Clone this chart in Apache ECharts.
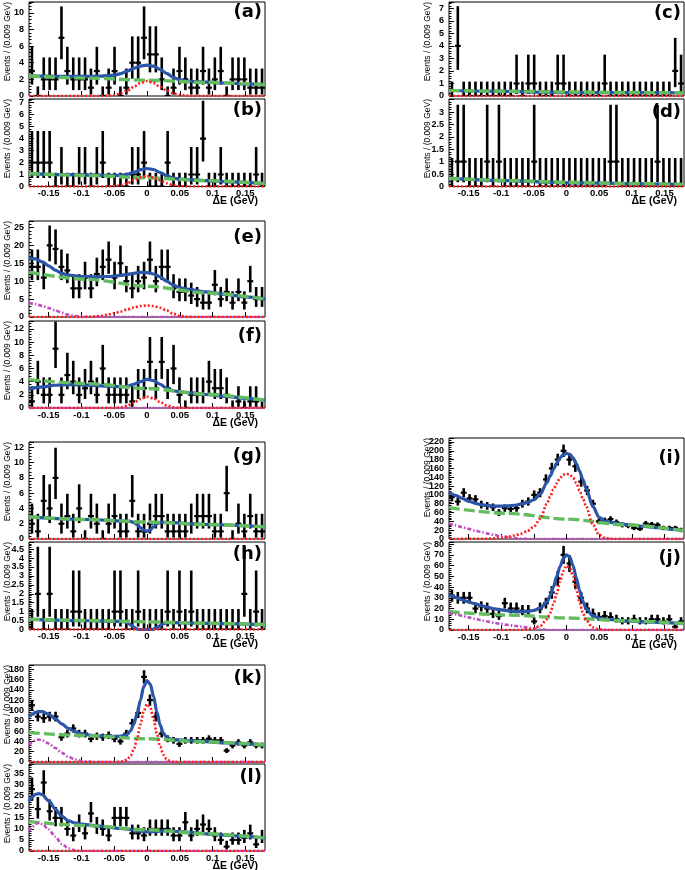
<!DOCTYPE html>
<html>
<head>
<meta charset="utf-8">
<script src="https://cdn.jsdelivr.net/npm/echarts@6/dist/echarts.min.js"></script>
<style>
  html, body { margin: 0; padding: 0; background: #fff; }
  #chart { width: 685px; height: 870px; }
</style>
</head>
<body>
<div id="chart"></div>
<script>
// ---- binning: 40 bins of 0.009 GeV between -0.18 and 0.18 ----
var X_MIN = -0.18, X_MAX = 0.18;
var BIN_WIDTH = 0.009;
var BIN_CENTERS = [-0.1755, -0.1665, -0.1575, -0.1485, -0.1395, -0.1305, -0.1215, -0.1125, -0.1035, -0.0945,
                   -0.0855, -0.0765, -0.0675, -0.0585, -0.0495, -0.0405, -0.0315, -0.0225, -0.0135, -0.0045,
                    0.0045,  0.0135,  0.0225,  0.0315,  0.0405,  0.0495,  0.0585,  0.0675,  0.0765,  0.0855,
                    0.0945,  0.1035,  0.1125,  0.1215,  0.1305,  0.1395,  0.1485,  0.1575,  0.1665,  0.1755];
var X_TICKS = [-0.15, -0.1, -0.05, 0, 0.05, 0.1, 0.15];

// Poisson 68% intervals used for the error bars of small counts (n = 0..20)
var POIS_LO = [0, 0.173, 0.708, 1.367, 2.086, 2.840, 3.620, 4.419, 5.232, 6.057, 6.891,
               7.734, 8.585, 9.441, 10.30, 11.17, 12.04, 12.92, 13.80, 14.68, 15.57];
var POIS_HI = [1.148, 3.300, 4.638, 5.918, 7.163, 8.382, 9.584, 10.77, 11.95, 13.11, 14.27,
               15.42, 16.56, 17.70, 18.83, 19.96, 21.08, 22.20, 23.32, 24.44, 25.55];

// ---- events per bin ----
var A_COUNTS = [3,0,2,2,2,7,3,2,2,2, 1,3,0,1,3,0,1,4,4,7, 5,5,2,0,1,3,2,1,1,3, 1,2,3,0,2,2,2,1,1,1];
var B_COUNTS = [2,2,2,2,0,1,0,0,1,1, 0,1,2,0,0,0,0,1,1,2, 0,0,0,2,0,0,0,1,1,4, 0,0,1,0,0,0,0,0,1,0];
var C_COUNTS = [0,4,0,0,0,0,0,0,0,0, 0,1,0,1,1,0,0,0,1,1, 0,0,0,0,0,0,1,0,0,0, 0,0,0,0,0,0,0,0,2,1];
var D_COUNTS = [0,1,1,0,0,0,1,0,1,0, 0,0,0,0,1,0,0,0,0,0, 0,0,0,0,0,0,0,1,1,0, 0,0,0,0,0,1,0,0,0,0];
var E_COUNTS = [14,14,11,20,19,14,13,8,8,11, 8,12,14,16,11,15,10,8,10,11, 16,10,14,14,8,7,7,6,5,4, 4,9,5,7,4,7,4,10,5,5];
var F_COUNTS = [1,4,2,2,9,2,5,4,2,3, 4,2,6,2,2,2,2,1,3,3, 7,3,7,3,6,2,0,2,2,2, 4,3,3,2,0,1,0,1,1,0];
var G_COUNTS = [2,1,5,4,8,2,3,1,4,0, 3,2,0,2,3,1,1,5,1,1, 2,3,3,1,1,1,1,2,3,3, 3,1,1,6,0,2,1,3,1,1];
var H_COUNTS = [0,2,0,2,0,0,0,1,1,0, 0,0,0,0,1,1,0,0,1,0, 0,0,0,1,0,1,0,1,0,0, 0,0,0,0,0,0,2,0,1,0];
var I_COUNTS = [95,85,105,92,90,78,75,72,60,70, 68,70,80,85,100,105,135,160,180,200,
                180,165,130,110,80,40,42,45,38,32, 30,25,23,35,33,32,25,25,25,20];
var J_COUNTS = [32,30,30,30,20,22,20,15,13,25, 20,20,18,18,8,20,25,35,48,70,
                62,45,30,20,15,12,13,12,10,8, 8,10,8,8,10,10,8,10,3,8];
var K_COUNTS = [110,88,85,88,88,48,55,65,55,55, 45,50,48,52,45,40,55,75,95,165,
                120,88,55,45,42,35,42,42,42,42, 45,42,42,22,32,38,32,38,32,32];
var L_COUNTS = [28,19,31,18,15,15,10,7,12,8, 17,11,10,7,15,15,15,8,8,7,
                10,10,10,10,7,7,13,7,10,12, 10,7,5,2,5,5,6,8,3,6];

// ---- y tick labels ----
var A_YTICKS = [0, 2, 4, 6, 8, 10];
var B_YTICKS = [0, 1, 2, 3, 4, 5, 6, 7];
var C_YTICKS = [0, 1, 2, 3, 4, 5, 6, 7];
var D_YTICKS = [0, 0.5, 1, 1.5, 2, 2.5, 3];
var E_YTICKS = [0, 5, 10, 15, 20, 25];
var F_YTICKS = [0, 2, 4, 6, 8, 10, 12];
var G_YTICKS = [0, 2, 4, 6, 8, 10, 12];
var H_YTICKS = [0, 0.5, 1, 1.5, 2, 2.5, 3, 3.5, 4, 4.5];
var I_YTICKS = [0, 20, 40, 60, 80, 100, 120, 140, 160, 180, 200, 220];
var J_YTICKS = [0, 10, 20, 30, 40, 50, 60, 70, 80];
var K_YTICKS = [0, 20, 40, 60, 80, 100, 120, 140, 160, 180];
var L_YTICKS = [0, 5, 10, 15, 20, 25, 30, 35];

// ---- fit curves as [dE, events] ----
var ZERO_LINE = [[-0.18, 0], [0.18, 0]];

var A_TOTAL = [[-0.18,2.4],[-0.14,2.37],[-0.1,2.35],[-0.07,2.38],[-0.05,2.5],[-0.04,2.7],[-0.03,3.0],[-0.02,3.35],[-0.01,3.6],[0,3.7],
               [0.01,3.58],[0.02,3.2],[0.03,2.72],[0.04,2.25],[0.05,1.95],[0.06,1.8],[0.09,1.66],[0.12,1.56],[0.15,1.46],[0.18,1.36]];
var A_BKG   = [[-0.18,2.4],[-0.09,2.15],[0,1.9],[0.09,1.63],[0.18,1.36]];
var A_SIG   = [[-0.18,0],[-0.07,0],[-0.06,0.04],[-0.05,0.12],[-0.04,0.32],[-0.03,0.65],[-0.02,1.1],[-0.01,1.55],[0,1.8],
               [0.01,1.55],[0.02,1.1],[0.03,0.65],[0.04,0.32],[0.05,0.12],[0.06,0.04],[0.07,0],[0.18,0]];

var B_TOTAL = [[-0.18,1.08],[-0.12,0.99],[-0.08,0.95],[-0.05,0.92],[-0.04,0.94],[-0.03,1.02],[-0.02,1.18],[-0.01,1.4],[0,1.5],
               [0.01,1.42],[0.02,1.17],[0.03,0.9],[0.04,0.7],[0.05,0.62],[0.09,0.49],[0.13,0.38],[0.18,0.24]];
var B_BKG   = [[-0.18,1.08],[-0.09,0.92],[0,0.72],[0.09,0.49],[0.18,0.24]];
var B_SIG   = [[-0.18,0],[-0.06,0],[-0.05,0.03],[-0.04,0.1],[-0.03,0.27],[-0.02,0.52],[-0.01,0.76],[0,0.88],
               [0.01,0.76],[0.02,0.52],[0.03,0.27],[0.04,0.1],[0.05,0.03],[0.06,0],[0.18,0]];

var C_TOTAL = [[-0.18,0.44],[-0.09,0.37],[-0.03,0.3],[0,0.27],[0.03,0.27],[0.09,0.27],[0.18,0.25]];
var C_BKG   = [[-0.18,0.45],[-0.09,0.38],[0,0.32],[0.09,0.28],[0.18,0.25]];

var D_TOTAL = [[-0.18,0.33],[-0.09,0.24],[-0.03,0.18],[0,0.15],[0.03,0.15],[0.09,0.12],[0.18,0.08]];
var D_BKG   = [[-0.18,0.33],[-0.09,0.24],[0,0.17],[0.09,0.12],[0.18,0.08]];

var E_TOTAL = [[-0.18,16.5],[-0.17,16.2],[-0.16,15.4],[-0.15,14.3],[-0.14,13.1],[-0.13,12.2],[-0.12,11.7],[-0.1,11.3],[-0.08,11.2],[-0.06,11.3],
               [-0.04,11.6],[-0.03,11.9],[-0.02,12.2],[-0.01,12.45],[0,12.4],[0.01,12.0],[0.02,11.2],[0.03,10.0],[0.04,8.9],[0.05,8.2],
               [0.06,7.8],[0.09,7.0],[0.12,6.3],[0.15,5.6],[0.18,5.0]];
var E_BKG   = [[-0.18,12.5],[-0.09,10.5],[0,8.6],[0.09,6.75],[0.18,5.0]];
var E_SIG   = [[-0.18,0],[-0.09,0],[-0.08,0.15],[-0.07,0.35],[-0.06,0.65],[-0.05,1.05],[-0.04,1.55],[-0.03,2.1],[-0.02,2.65],[-0.01,3.05],[0,3.2],
               [0.01,3.05],[0.02,2.6],[0.03,1.8],[0.04,0.9],[0.05,0.3],[0.06,0.05],[0.07,0],[0.18,0]];
var E_OTHER = [[-0.18,3.9],[-0.17,3.6],[-0.16,3.1],[-0.15,2.5],[-0.14,1.85],[-0.13,1.2],[-0.12,0.65],[-0.11,0.3],[-0.1,0.12],[-0.09,0.03],[-0.08,0],[0.18,0]];

var F_TOTAL = [[-0.18,2.85],[-0.16,3.2],[-0.14,3.45],[-0.12,3.55],[-0.1,3.5],[-0.08,3.42],[-0.06,3.32],[-0.04,3.22],[-0.03,3.3],[-0.02,3.6],[-0.01,4.0],[0,4.35],
               [0.01,4.15],[0.02,3.6],[0.03,3.0],[0.04,2.62],[0.05,2.45],[0.07,2.28],[0.09,2.05],[0.12,1.75],[0.15,1.45],[0.18,1.15]];
var F_BKG   = [[-0.18,4.3],[-0.09,3.7],[0,2.95],[0.09,2.1],[0.18,1.15]];
var F_SIG   = [[-0.18,0],[-0.05,0],[-0.04,0.1],[-0.03,0.35],[-0.02,0.8],[-0.01,1.35],[0,1.7],[0.01,1.45],[0.02,0.9],[0.03,0.4],[0.04,0.12],[0.05,0],[0.18,0]];

var G_TOTAL = [[-0.18,2.9],[-0.09,2.55],[-0.03,2.33],[-0.025,2.3],[-0.02,2.18],[-0.015,1.88],[-0.01,1.5],[-0.005,1.15],[0,1.0],
               [0.005,1.18],[0.01,1.62],[0.015,2.02],[0.02,2.16],[0.025,2.17],[0.09,1.9],[0.18,1.58]];
var G_BKG   = [[-0.18,2.9],[-0.09,2.55],[0,2.22],[0.09,1.9],[0.18,1.58]];

var H_TOTAL = [[-0.18,0.57],[-0.09,0.49],[-0.04,0.45],[-0.035,0.44],[-0.03,0.38],[-0.025,0.27],[-0.02,0.12],[-0.015,0.02],[-0.012,0],
               [0.008,0],[0.012,0.05],[0.018,0.18],[0.023,0.3],[0.03,0.37],[0.04,0.39],[0.09,0.34],[0.18,0.27]];
var H_BKG   = [[-0.18,0.58],[-0.09,0.5],[0,0.43],[0.09,0.35],[0.18,0.28]];

var I_TOTAL = [[-0.18,106],[-0.17,99],[-0.16,92],[-0.15,86],[-0.14,81],[-0.13,77.5],[-0.12,75.5],[-0.11,74.5],[-0.1,74.5],[-0.09,75],
               [-0.08,76.5],[-0.07,79],[-0.06,83],[-0.05,89],[-0.04,102],[-0.03,128],[-0.025,143],[-0.02,158],[-0.015,172],[-0.01,184],
               [-0.005,191],[0,194],[0.005,192],[0.01,184],[0.015,171],[0.02,154],[0.025,135],[0.03,115],[0.04,75],[0.05,49],
               [0.06,40],[0.07,37],[0.08,35],[0.09,33],[0.1,31.5],[0.12,28.5],[0.14,25.5],[0.16,22],[0.18,19]];
var I_BKG   = [[-0.18,71],[-0.09,58],[0,45],[0.09,32],[0.18,19]];
var I_SIG   = [[-0.18,0],[-0.12,0.5],[-0.11,1.5],[-0.1,3],[-0.09,5],[-0.08,8],[-0.07,12],[-0.06,18],[-0.05,28],[-0.04,46],[-0.03,80],
               [-0.025,96],[-0.02,112],[-0.015,126],[-0.01,138],[-0.005,146],[0,148],[0.005,146],[0.01,139],[0.015,127],[0.02,110],
               [0.025,92],[0.03,74],[0.04,34],[0.05,9],[0.06,1.5],[0.07,0],[0.18,0]];
var I_OTHER = [[-0.18,35],[-0.17,31],[-0.16,27],[-0.15,23],[-0.14,19],[-0.13,15.5],[-0.12,12],[-0.11,9],[-0.1,6],[-0.09,3.8],
               [-0.08,2],[-0.07,0.8],[-0.06,0.2],[-0.05,0],[0.18,0]];

var J_TOTAL = [[-0.18,33],[-0.17,30.5],[-0.16,28.2],[-0.15,26.2],[-0.14,24.3],[-0.13,22.6],[-0.12,21],[-0.11,19.7],[-0.1,18.7],[-0.09,17.9],
               [-0.08,17.3],[-0.07,17],[-0.06,17.2],[-0.05,18.2],[-0.04,20.5],[-0.03,26],[-0.025,32],[-0.02,40],[-0.015,50],[-0.01,59],
               [-0.005,66.5],[0,70],[0.005,68],[0.01,60],[0.015,48.5],[0.02,37],[0.025,27],[0.03,20],[0.04,13.5],[0.05,11],
               [0.06,10],[0.09,8.6],[0.12,7.6],[0.15,6.8],[0.18,6]];
var J_BKG   = [[-0.18,17],[-0.09,14],[0,11.2],[0.09,8.6],[0.18,6]];
var J_SIG   = [[-0.18,0],[-0.07,0],[-0.06,0.5],[-0.05,1.5],[-0.04,4],[-0.03,10],[-0.025,16],[-0.02,24],[-0.015,34],[-0.01,45],[-0.005,55],[0,60],
               [0.005,58],[0.01,50],[0.015,38],[0.02,26],[0.025,16],[0.03,9],[0.04,2.5],[0.05,0.5],[0.06,0],[0.18,0]];
var J_OTHER = [[-0.18,16],[-0.17,14.6],[-0.16,13.2],[-0.15,11.8],[-0.14,10.4],[-0.13,9],[-0.12,7.8],[-0.11,6.6],[-0.1,5.6],[-0.09,4.7],
               [-0.08,3.9],[-0.07,3.1],[-0.06,2.3],[-0.05,1.4],[-0.04,0.6],[-0.03,0.1],[-0.02,0],[0.18,0]];

var K_TOTAL = [[-0.18,88],[-0.175,92.5],[-0.17,96],[-0.165,98],[-0.16,97.5],[-0.15,93],[-0.14,84],[-0.13,74],[-0.12,65],[-0.11,59],
               [-0.1,55],[-0.09,52.5],[-0.08,51],[-0.06,50],[-0.045,49.5],[-0.04,50],[-0.035,51.5],[-0.03,54],[-0.025,61],[-0.02,74],
               [-0.015,94],[-0.01,120],[-0.005,146],[0,158],[0.005,151],[0.01,127],[0.015,97],[0.02,72],[0.025,56],[0.03,48],
               [0.035,45],[0.04,43.5],[0.06,42],[0.09,39.3],[0.12,37],[0.15,35],[0.18,33]];
var K_BKG   = [[-0.18,57],[-0.09,51],[0,45],[0.09,39],[0.18,33]];
var K_SIG   = [[-0.18,0],[-0.045,0],[-0.04,0.5],[-0.035,2],[-0.03,5],[-0.025,12],[-0.02,25],[-0.015,46],[-0.01,73],[-0.005,99],[0,112],
               [0.005,106],[0.01,83],[0.015,55],[0.02,30],[0.025,14],[0.03,5.5],[0.035,2],[0.04,0.5],[0.045,0],[0.18,0]];
var K_OTHER = [[-0.18,33],[-0.175,38],[-0.17,42],[-0.165,43.5],[-0.16,42],[-0.15,36],[-0.14,27],[-0.13,18],[-0.12,10],[-0.11,5],
               [-0.1,2],[-0.09,0.6],[-0.08,0],[0.18,0]];

var L_TOTAL = [[-0.18,22.5],[-0.175,24.5],[-0.17,25.7],[-0.165,26],[-0.16,25.5],[-0.15,22.8],[-0.14,19],[-0.13,15.8],[-0.12,13.7],[-0.11,12.7],
               [-0.1,12.2],[-0.08,11.5],[-0.06,10.8],[-0.04,10.2],[-0.02,9.5],[-0.01,9.0],[0,8.7],[0.01,8.8],[0.02,9.0],[0.03,9.1],
               [0.05,8.8],[0.09,7.8],[0.12,7.2],[0.15,6.5],[0.18,5.9]];
var L_BKG   = [[-0.18,13.3],[-0.09,11.5],[0,9.6],[0.09,7.8],[0.18,5.9]];
var L_OTHER = [[-0.18,9],[-0.175,11],[-0.17,12.3],[-0.165,12.7],[-0.16,12.2],[-0.15,9.8],[-0.14,6.5],[-0.13,3.2],[-0.12,1.2],[-0.11,0.3],[-0.1,0],[0.18,0]];

// ---- layout of the 12 pads (pixels) ----
var LEFT_COL = 29, LEFT_W = 236;
var RIGHT_COL = 449, RIGHT_W = 235;

var PANELS = [
  { name: '(a)', counts: A_COUNTS, total: A_TOTAL, bkg: A_BKG, sig: A_SIG,     other: null,      yTicks: A_YTICKS, yMax: 11.3, left: LEFT_COL,  width: LEFT_W,  top: 2,   height: 94,   axisRow: false, labelY: 12 },
  { name: '(b)', counts: B_COUNTS, total: B_TOTAL, bkg: B_BKG, sig: B_SIG,     other: null,      yTicks: B_YTICKS, yMax: 7.3,  left: LEFT_COL,  width: LEFT_W,  top: 99,  height: 87.5, axisRow: true,  labelY: 110 },
  { name: '(c)', counts: C_COUNTS, total: C_TOTAL, bkg: C_BKG, sig: ZERO_LINE, other: null,      yTicks: C_YTICKS, yMax: 7.5,  left: RIGHT_COL, width: RIGHT_W, top: 2,   height: 94,   axisRow: false, labelY: 13 },
  { name: '(d)', counts: D_COUNTS, total: D_TOTAL, bkg: D_BKG, sig: ZERO_LINE, other: null,      yTicks: D_YTICKS, yMax: 3.53, left: RIGHT_COL, width: RIGHT_W, top: 99,  height: 87.5, axisRow: true,  labelY: 112 },
  { name: '(e)', counts: E_COUNTS, total: E_TOTAL, bkg: E_BKG, sig: E_SIG,     other: E_OTHER,   yTicks: E_YTICKS, yMax: 26.8, left: LEFT_COL,  width: LEFT_W,  top: 221, height: 96,   axisRow: false, labelY: 237 },
  { name: '(f)', counts: F_COUNTS, total: F_TOTAL, bkg: F_BKG, sig: F_SIG,     other: ZERO_LINE, yTicks: F_YTICKS, yMax: 13.2, left: LEFT_COL,  width: LEFT_W,  top: 321, height: 87,   axisRow: true,  labelY: 336 },
  { name: '(g)', counts: G_COUNTS, total: G_TOTAL, bkg: G_BKG, sig: ZERO_LINE, other: null,      yTicks: G_YTICKS, yMax: 12.7, left: LEFT_COL,  width: LEFT_W,  top: 442, height: 97,   axisRow: false, labelY: 456 },
  { name: '(h)', counts: H_COUNTS, total: H_TOTAL, bkg: H_BKG, sig: ZERO_LINE, other: null,      yTicks: H_YTICKS, yMax: 4.9,  left: LEFT_COL,  width: LEFT_W,  top: 542, height: 87.5, axisRow: true,  labelY: 554 },
  { name: '(i)', counts: I_COUNTS, total: I_TOTAL, bkg: I_BKG, sig: I_SIG,     other: I_OTHER,   yTicks: I_YTICKS, yMax: 229,  left: RIGHT_COL, width: RIGHT_W, top: 438, height: 101,  axisRow: false, labelY: 458 },
  { name: '(j)', counts: J_COUNTS, total: J_TOTAL, bkg: J_BKG, sig: J_SIG,     other: J_OTHER,   yTicks: J_YTICKS, yMax: 82,   left: RIGHT_COL, width: RIGHT_W, top: 542, height: 88,   axisRow: true,  labelY: 558 },
  { name: '(k)', counts: K_COUNTS, total: K_TOTAL, bkg: K_BKG, sig: K_SIG,     other: K_OTHER,   yTicks: K_YTICKS, yMax: 188,  left: LEFT_COL,  width: LEFT_W,  top: 665, height: 97,   axisRow: false, labelY: 678 },
  { name: '(l)', counts: L_COUNTS, total: L_TOTAL, bkg: L_BKG, sig: ZERO_LINE, other: L_OTHER,   yTicks: L_YTICKS, yMax: 39.4, left: LEFT_COL,  width: LEFT_W,  top: 764, height: 87,   axisRow: true,  labelY: 777 }
];

var FONT = '"Liberation Sans", Arial, Helvetica, sans-serif';
var BLUE = '#2a55a8', GREEN = '#63bd5f', RED = '#ff1e1e', MAGENTA = '#c04cc0';

function poissonBand(n) {
  if (n < POIS_LO.length) return [POIS_LO[n], POIS_HI[n]];
  var s = Math.sqrt(n);
  return [n - s, n + s];
}

// data point: vertical error bar + horizontal bin-width bar
function renderPoint(params, api) {
  var x = api.value(0), n = api.value(1);
  var lo = api.coord([x, api.value(2)]);
  var hi = api.coord([x, api.value(3)]);
  var l = api.coord([x - BIN_WIDTH / 2, n]);
  var r = api.coord([x + BIN_WIDTH / 2, n]);
  return {
    type: 'group',
    children: [
      { type: 'line', shape: { x1: lo[0], y1: lo[1], x2: hi[0], y2: hi[1] }, style: { stroke: '#000', lineWidth: 2.6 } },
      { type: 'line', shape: { x1: l[0], y1: l[1], x2: r[0], y2: r[1] }, style: { stroke: '#000', lineWidth: 2.2 } }
    ]
  };
}

function curve(data, k, color, width, dash, z) {
  return {
    type: 'line', xAxisIndex: k, yAxisIndex: k, data: data,
    showSymbol: false, symbol: 'none', smooth: 0.3, smoothMonotone: 'x',
    lineStyle: { color: color, width: width, type: dash },
    z: z, silent: true, animation: false
  };
}

var grids = [], xAxes = [], yAxes = [], series = [], graphics = [];

PANELS.forEach(function (p, k) {
  grids.push({
    left: p.left, top: p.top, width: p.width, height: p.height,
    show: true, borderColor: '#000', borderWidth: 1, backgroundColor: 'transparent',
    containLabel: false, outerBoundsMode: 'none'
  });

  xAxes.push({
    type: 'value', gridIndex: k, min: X_MIN, max: X_MAX, position: 'bottom',
    axisLine: { show: false, onZero: false }, splitLine: { show: false },
    axisTick: { show: true, inside: true, length: 5, customValues: X_TICKS, lineStyle: { color: '#000' } },
    axisLabel: {
      show: p.axisRow, customValues: X_TICKS, margin: 2,
      color: '#000', fontSize: 9.5, fontWeight: 'bold', fontFamily: FONT,
      formatter: function (v) { return String(v); }
    }
  });

  yAxes.push({
    type: 'value', gridIndex: k, min: 0, max: p.yMax, position: 'left',
    interval: p.yTicks[1] - p.yTicks[0],
    axisLine: { show: false, onZero: false }, splitLine: { show: false },
    axisTick: { show: true, inside: true, length: 5, lineStyle: { color: '#000' } },
    minorTick: { show: true, splitNumber: 5, length: 2.5, lineStyle: { color: '#000' } },
    axisLabel: {
      customValues: p.yTicks, margin: 5,
      color: '#000', fontSize: 9, fontWeight: 'bold', fontFamily: FONT,
      formatter: function (v) { return String(v); }
    }
  });

  series.push({
    type: 'custom', xAxisIndex: k, yAxisIndex: k, clip: true,
    renderItem: renderPoint, encode: { x: 0, y: 1 },
    data: p.counts.map(function (n, i) {
      var band = poissonBand(n);
      return [BIN_CENTERS[i], n, band[0], band[1]];
    }),
    z: 2, silent: true, animation: false
  });

  series.push(curve(p.total, k, BLUE, 3.2, 'solid', 3));
  series.push(curve(p.bkg, k, GREEN, 3.4, [11, 4], 4));
  if (p.other) series.push(curve(p.other, k, MAGENTA, 2.6, [4, 2, 1.5, 2], 5));
  series.push(curve(p.sig, k, RED, 2.6, [2, 2], 6));

  // y title, right aligned to the top of the pad
  graphics.push({
    type: 'text', x: p.left - 21, y: p.top, rotation: Math.PI / 2,
    style: { text: 'Events / (0.009 GeV)', align: 'right', verticalAlign: 'middle',
             fontSize: 8.5, fontFamily: FONT, fill: '#000' }
  });

  // pad label
  graphics.push({
    type: 'text', x: p.left + p.width - 3, y: p.labelY,
    style: { text: p.name, align: 'right', verticalAlign: 'middle',
             fontSize: 18, fontWeight: 'bold', fontFamily: '"DejaVu Sans", Arial, sans-serif', fill: '#000' }
  });

  if (p.axisRow) {
    graphics.push({
      type: 'text', x: p.left + p.width - 7, y: p.top + p.height + 15,
      style: { text: 'ΔE (GeV)', align: 'right', verticalAlign: 'middle',
               fontSize: 10.5, fontWeight: 'bold', fontFamily: FONT, fill: '#000' }
    });
  }
});

var chart = echarts.init(document.getElementById('chart'), null, { renderer: 'canvas' });
chart.setOption({
  backgroundColor: '#fff',
  animation: false,
  grid: grids,
  xAxis: xAxes,
  yAxis: yAxes,
  series: series,
  graphic: graphics
});
</script>
</body>
</html>
